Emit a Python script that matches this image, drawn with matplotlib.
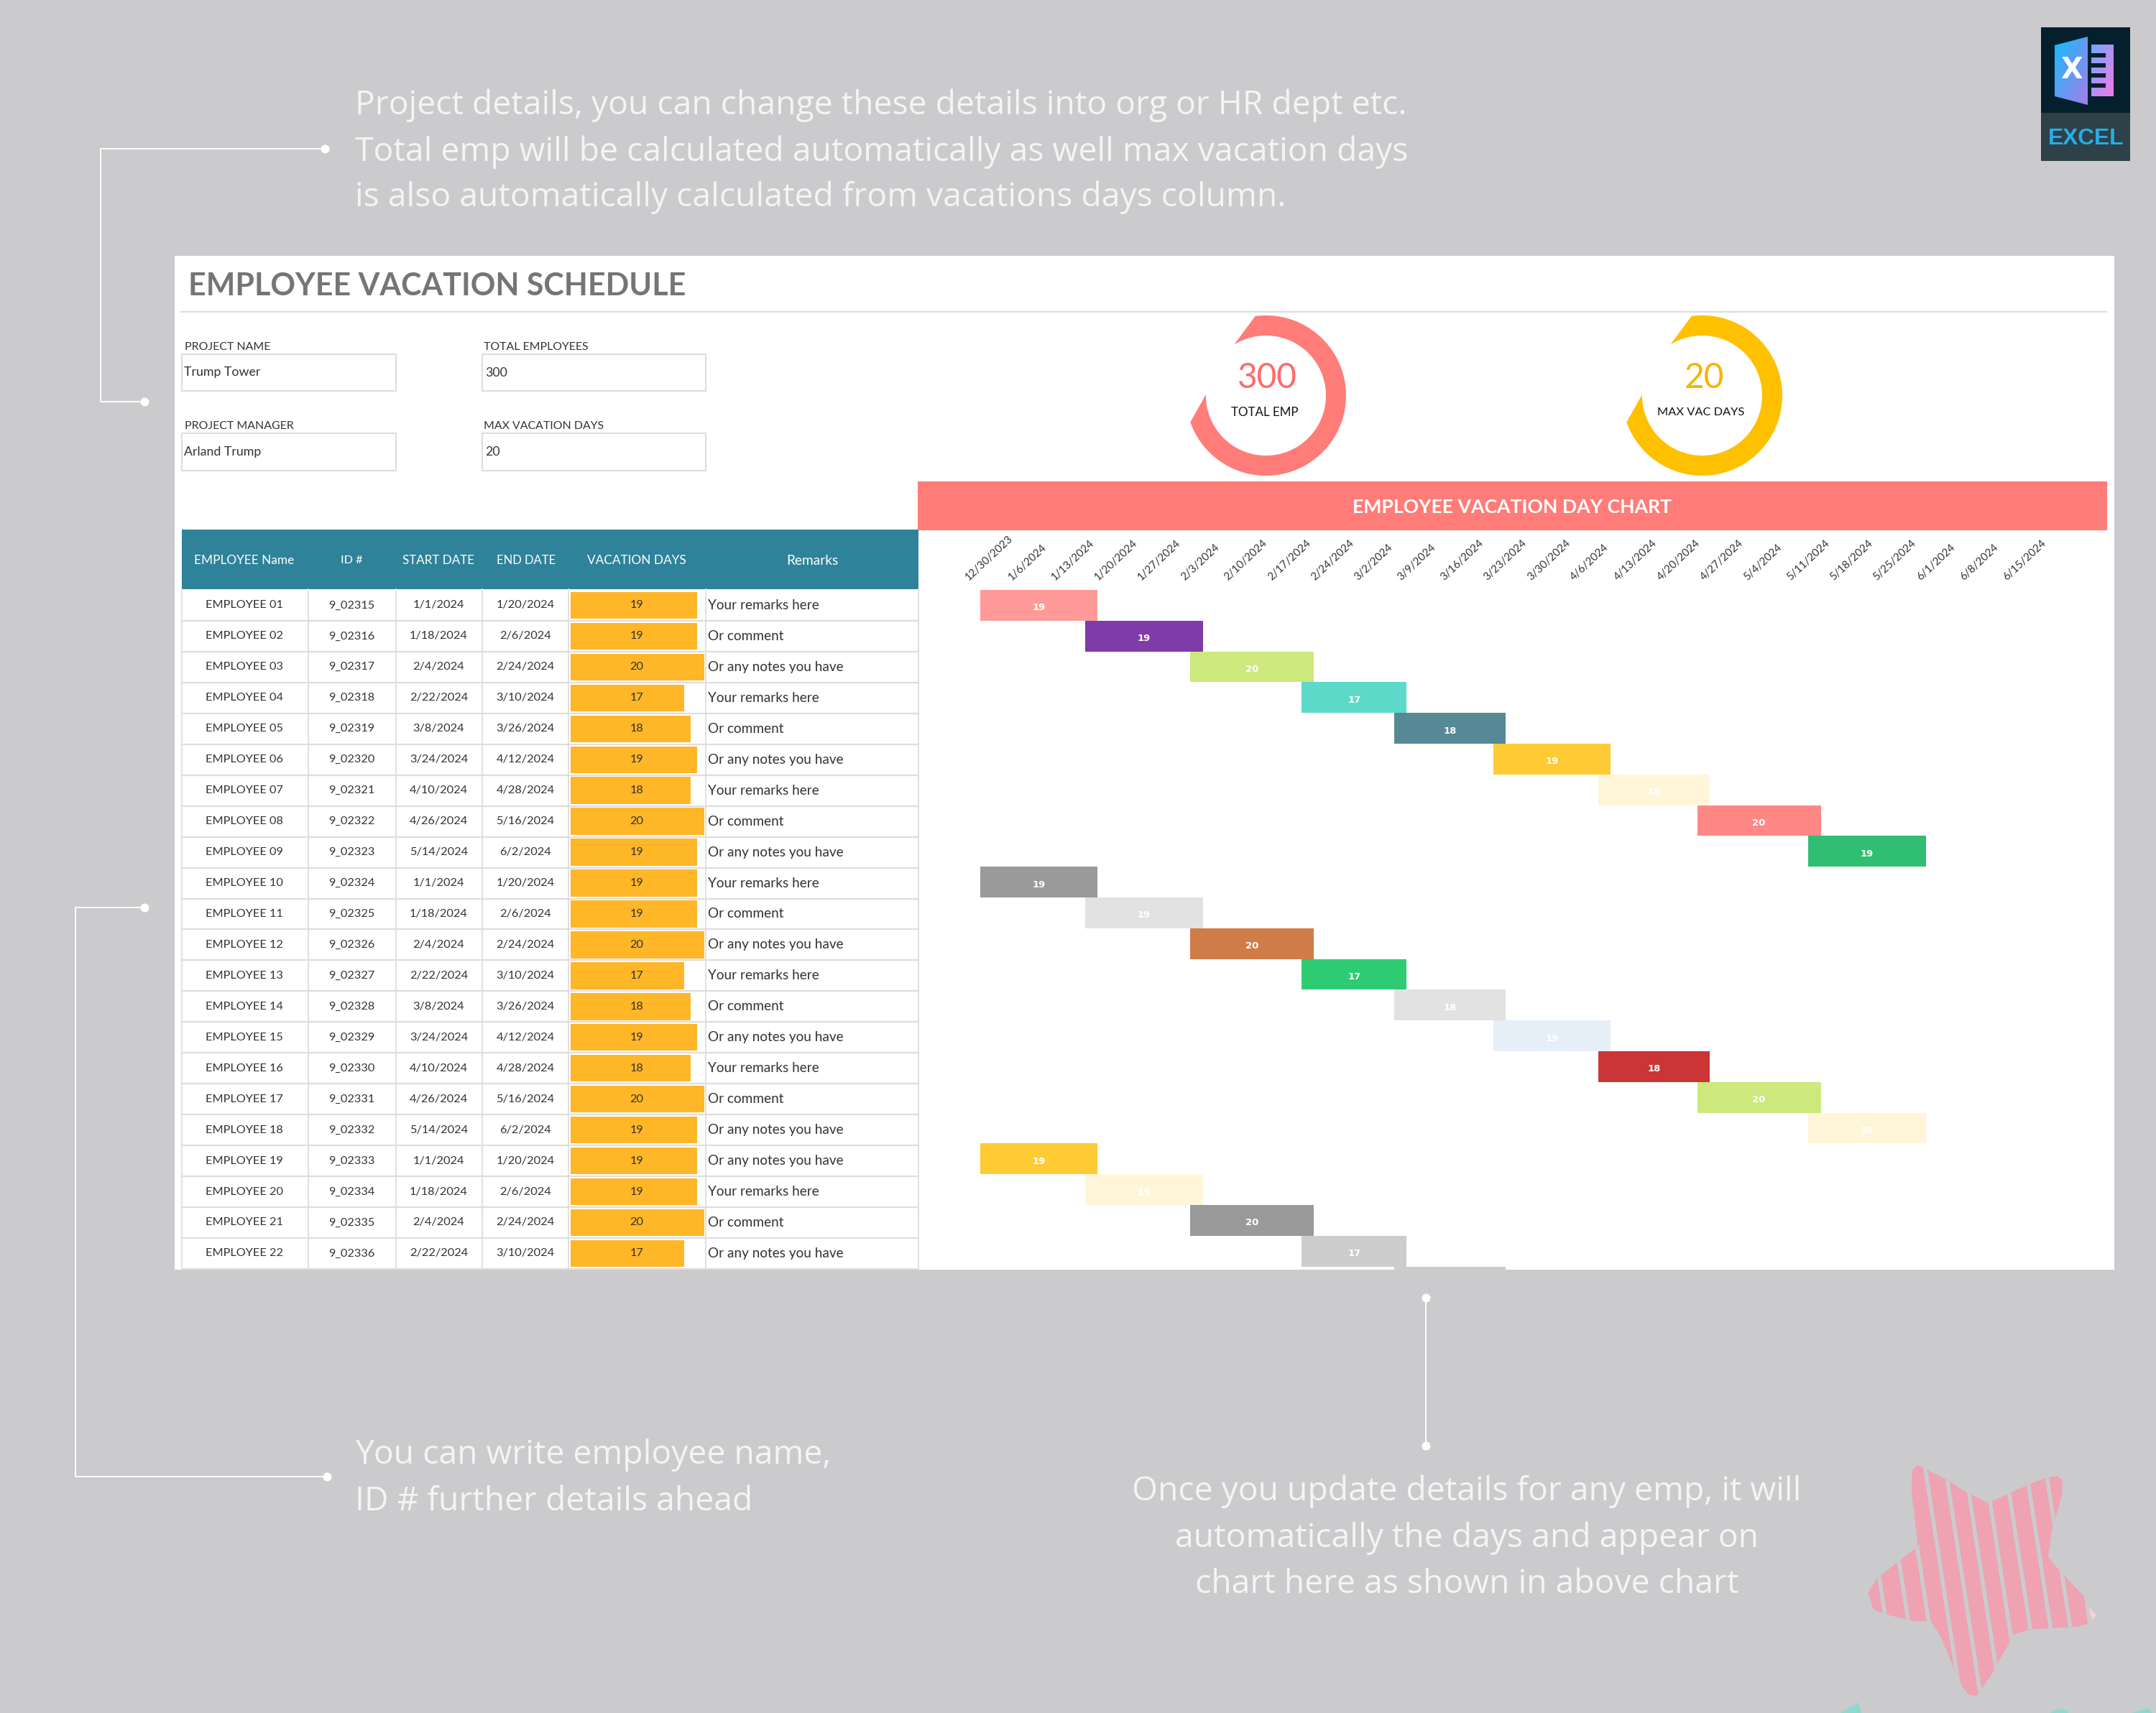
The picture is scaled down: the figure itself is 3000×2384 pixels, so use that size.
# Employee vacation schedule sheet, redrawn on a pixel canvas with a gantt axes on top.

import numpy as np
import matplotlib
matplotlib.use("Agg")
import matplotlib.pyplot as plt
import matplotlib.dates as mdates
from matplotlib.patches import Rectangle, Polygon
from matplotlib.transforms import ScaledTranslation
from datetime import date

W, H = 3000, 2384

names = ["EMPLOYEE %02d" % n for n in range(1, 23)]
ids = ["9_02315", "9_02316", "9_02317", "9_02318", "9_02319", "9_02320", "9_02321", "9_02322",
       "9_02323", "9_02324", "9_02325", "9_02326", "9_02327", "9_02328", "9_02329", "9_02330",
       "9_02331", "9_02332", "9_02333", "9_02334", "9_02335", "9_02336"]
start_labels = ["1/1/2024", "1/18/2024", "2/4/2024", "2/22/2024", "3/8/2024", "3/24/2024",
                "4/10/2024", "4/26/2024", "5/14/2024", "1/1/2024", "1/18/2024", "2/4/2024",
                "2/22/2024", "3/8/2024", "3/24/2024", "4/10/2024", "4/26/2024", "5/14/2024",
                "1/1/2024", "1/18/2024", "2/4/2024", "2/22/2024"]
end_labels = ["1/20/2024", "2/6/2024", "2/24/2024", "3/10/2024", "3/26/2024", "4/12/2024",
              "4/28/2024", "5/16/2024", "6/2/2024", "1/20/2024", "2/6/2024", "2/24/2024",
              "3/10/2024", "3/26/2024", "4/12/2024", "4/28/2024", "5/16/2024", "6/2/2024",
              "1/20/2024", "2/6/2024", "2/24/2024", "3/10/2024"]
vac_days = [19, 19, 20, 17, 18, 19, 18, 20, 19, 19, 19, 20, 17, 18, 19, 18, 20, 19, 19, 19, 20, 17]
remarks = ["Your remarks here", "Or comment", "Or any notes you have",
           "Your remarks here", "Or comment", "Or any notes you have",
           "Your remarks here", "Or comment", "Or any notes you have",
           "Your remarks here", "Or comment", "Or any notes you have",
           "Your remarks here", "Or comment", "Or any notes you have",
           "Your remarks here", "Or comment", "Or any notes you have",
           "Or any notes you have", "Your remarks here", "Or comment", "Or any notes you have"]
bar_colors = ["#FF9A98", "#7F3BA8", "#CDE87C", "#5DD9C9", "#568896", "#FFCB35", "#FFF5D8", "#FF8785",
              "#30BE72", "#9A9A9A", "#E2E2E2", "#D07C48", "#2ECC72", "#E2E2E2", "#E6EEF8", "#CC3535",
              "#CDE87C", "#FFF5D8", "#FFCB35", "#FFF5D8", "#9A9A9A", "#CCCCCC"]
# row 23 only peeks out under the sheet's cut edge
extra_start, extra_days, extra_color = "3/8/2024", 18, "#CCCCCC"

headers = ["EMPLOYEE Name", "ID #", "START DATE", "END DATE", "VACATION DAYS", "Remarks"]
tick_dates = ["12/30/2023", "1/6/2024", "1/13/2024", "1/20/2024", "1/27/2024", "2/3/2024", "2/10/2024",
              "2/17/2024", "2/24/2024", "3/2/2024", "3/9/2024", "3/16/2024", "3/23/2024", "3/30/2024",
              "4/6/2024", "4/13/2024", "4/20/2024", "4/27/2024", "5/4/2024", "5/11/2024", "5/18/2024",
              "5/25/2024", "6/1/2024", "6/8/2024", "6/15/2024"]

BG = "#CBCBCD"
FONT = "Lato"
INK = "#333333"
CORAL = "#FF7C78"
AMBER = "#FFC000"
GRID = "#DEDEDE"
NOTE = "#F4F4F4"

col_x = [252.5, 428.5, 550.5, 670.5, 791, 981.5, 1277.5]
row_top, row_h = 821, 42.95
gantt_row_h = 42.8
sheet_bottom = 1767


def to_num(s):
    m, d, y = s.split("/")
    return mdates.date2num(date(int(y), int(m), int(d)))


def add_axes_px(left, top, right, bottom):
    a = fig.add_axes([left / W, 1 - bottom / H, (right - left) / W, (bottom - top) / H])
    a.patch.set_alpha(0)
    for s in a.spines.values():
        s.set_visible(False)
    return a


def gradient(box, c1, c2, clip):
    # diagonal fill between two colours, clipped to a patch
    g = np.linspace(0, 1, 64)
    t = (g[None, :] + g[:, None]) / 2
    c1, c2 = matplotlib.colors.to_rgb(c1), matplotlib.colors.to_rgb(c2)
    img = np.dstack([c1[i] + (c2[i] - c1[i]) * t for i in range(3)])
    im = ax.imshow(img, extent=(box[0], box[2], box[3], box[1]), zorder=3, aspect="auto")
    im.set_clip_path(clip)


def ring(cx, cy, color):
    # gauge ring with the slanted cut ends of the sheet's shape
    a_out = np.radians(np.linspace(97.7, -160.6, 200))
    a_in = np.radians(np.linspace(-181, 122, 200))
    px = np.r_[cx + 111.5 * np.cos(a_out), cx + 83.5 * np.cos(a_in)]
    py = np.r_[cy - 111.5 * np.sin(a_out), cy - 83.5 * np.sin(a_in)]
    ax.fill(px, py, color=color, lw=0, zorder=2)


plt.rcParams["font.family"] = [FONT, "DejaVu Sans"]
fig = plt.figure(figsize=(W / 300, H / 300), dpi=300, facecolor=BG)
ax = fig.add_axes([0, 0, 1, 1])
ax.set_axis_off()

# sheet
ax.add_patch(Rectangle((243, 356), 2699, sheet_bottom - 356, color="white", lw=0, zorder=1))
ax.plot([252, 2931], [434, 434], color="#DDDDDD", lw=0.5, zorder=2)
ax.text(262, 398, "EMPLOYEE VACATION SCHEDULE", fontsize=10.3, fontweight="bold", color="#757575",
        va="center", ha="left", zorder=3)

# project fields
fields = [(257, 483, "PROJECT NAME", 252.5, 493, 551, 544, "Trump Tower"),
          (673, 483, "TOTAL EMPLOYEES", 671, 493, 981.5, 544, "300"),
          (257, 593, "PROJECT MANAGER", 252.5, 603, 551, 654.5, "Arland Trump"),
          (673, 593, "MAX VACATION DAYS", 671, 603, 981.5, 654.5, "20")]
for lx, ly, lab, x0, y0, x1, y1, val in fields:
    ax.text(lx, ly, lab, fontsize=3.8, color=INK, va="center", ha="left", zorder=3)
    ax.add_patch(Rectangle((x0, y0), x1 - x0, y1 - y0, fc="white", ec="#DADADA", lw=0.45, zorder=2))
    ax.text(x0 + 4, (y0 + y1) / 2, val, fontsize=4.25, color=INK, va="center", ha="left", zorder=3)

# gauges
ring(1761.5, 550.5, CORAL)
ring(2368.5, 550.5, AMBER)
ax.text(1763, 526, "300", fontsize=11.5, color="#FF6B6B", ha="center", va="center", zorder=3)
ax.text(1760, 574, "TOTAL EMP", fontsize=4.1, color="#111111", ha="center", va="center", zorder=3)
ax.text(2371, 526, "20", fontsize=11.5, color="#F5B400", ha="center", va="center", zorder=3)
ax.text(2366.5, 574, "MAX VAC DAYS", fontsize=3.95, color="#111111", ha="center", va="center", zorder=3)

# chart banner
ax.add_patch(Rectangle((1277, 669.5), 1654.5, 68.5, color=CORAL, lw=0, zorder=2))
ax.text(2104, 706, "EMPLOYEE VACATION DAY CHART", fontsize=6.4, fontweight="bold", color="white",
        ha="center", va="center", zorder=3)

# table header and grid
ax.add_patch(Rectangle((col_x[0], 737), col_x[-1] - col_x[0], 83, color="#2E8299", lw=0, zorder=2))
header_x = [340, 489, 610, 732, 886, 1130]
header_size = [4.15, 3.9, 4.1, 4.0, 4.15, 4.6]
for hx, lab, fs in zip(header_x, headers, header_size):
    ax.text(hx, 780, lab, fontsize=fs, color="white", ha="center", va="center", zorder=3)
for x in col_x:
    ax.plot([x, x], [820, sheet_bottom], color=GRID, lw=0.45, zorder=2)
for i in range(23):
    y = row_top + row_h * (i + 1)
    if y <= sheet_bottom:
        ax.plot([col_x[0], col_x[-1]], [y, y], color=GRID, lw=0.55, zorder=2)

for i in range(len(names)):
    y = row_top + row_h * (i + 0.5)
    ax.text(340, y, names[i], fontsize=3.9, color=INK, ha="center", va="center", zorder=3)
    ax.text(489.5, y, ids[i], fontsize=3.9, color=INK, ha="center", va="center", zorder=3)
    ax.text(610.5, y, start_labels[i], fontsize=3.95, color=INK, ha="center", va="center", zorder=3)
    ax.text(731, y, end_labels[i], fontsize=3.95, color=INK, ha="center", va="center", zorder=3)
    ax.text(985, y, remarks[i], fontsize=4.55, color=INK, ha="left", va="center", zorder=3)

# in-cell data bars, scaled on days
ax_days = add_axes_px(793.5, row_top, 979.5, sheet_bottom)
ax_days.set_xlim(0, max(vac_days))
ax_days.set_ylim((sheet_bottom - row_top) / row_h - 0.5, -0.5)
ax_days.set_axis_off()
ax_days.barh(range(len(vac_days)), vac_days, height=0.87, color="#FFB627", lw=0)
for i, d in enumerate(vac_days):
    ax_days.text(9.95, i, str(d), fontsize=3.9, color=INK, ha="center", va="center")

# gantt
px_per_day = 8.6
jan1 = to_num("1/1/2024")
ax_g = add_axes_px(1277.5, row_top, 2931.5, sheet_bottom)
ax_g.set_xlim(jan1 - (1364 - 1277.5) / px_per_day, jan1 + (2931.5 - 1364) / px_per_day)
ax_g.set_ylim((sheet_bottom - row_top) / gantt_row_h - 0.5, -0.5)
ax_g.barh(range(len(vac_days)), vac_days, left=[to_num(s) for s in start_labels], height=1.0,
          color=bar_colors, lw=0)
ax_g.barh(22, extra_days, left=to_num(extra_start), height=1.0, color=extra_color, lw=0)
for i, d in enumerate(vac_days):
    ax_g.text(to_num(start_labels[i]) + d / 2, i + 0.08, str(d), fontsize=3.2, family="DejaVu Sans",
              fontweight="bold", color="white", ha="center", va="center")
ax_g.set_yticks([])
ax_g.xaxis.tick_top()
ax_g.set_xticks([to_num(s) for s in tick_dates])
ax_g.set_xticklabels(tick_dates, rotation=43, ha="left", va="bottom", rotation_mode="anchor",
                     fontsize=3.65, color=INK)
ax_g.tick_params(axis="x", length=0, pad=2.5)
nudge = ScaledTranslation(3 / 300, 0, fig.dpi_scale_trans)
for lab in ax_g.get_xticklabels():
    lab.set_transform(lab.get_transform() + nudge)

# callouts
note_lines = [
    ((452, 207), (140, 207), (140, 559), (201, 559)),
    ((201, 1263), (105, 1263), (105, 2055), (455, 2055)),
    ((1984, 1806), (1984, 2012)),
]
for pts in note_lines:
    xs, ys = zip(*pts)
    ax.plot(xs, ys, color="white", lw=0.45, zorder=2)
    ax.plot([xs[0], xs[-1]], [ys[0], ys[-1]], "o", color="white", ms=2.9, mew=0, zorder=2)

notes_left = [(494, 159, "Project details, you can change these details into org or HR dept etc."),
              (494, 224, "Total emp will be calculated automatically as well max vacation days"),
              (494, 287, "is also automatically calculated from vacations days column."),
              (494, 2037, "You can write employee name,"),
              (494, 2102, "ID # further details ahead")]
for x, y, s in notes_left:
    ax.text(x, y, s, fontsize=11.1, color=NOTE, ha="left", va="baseline", family="Open Sans", zorder=3)
for y, s in [(2088, "Once you update details for any emp, it will"),
             (2153, "automatically the days and appear on"),
             (2217, "chart here as shown in above chart")]:
    ax.text(2041, y, s, fontsize=11.1, color=NOTE, ha="center", va="baseline", family="Open Sans", zorder=3)

# excel badge
ax.add_patch(Rectangle((2840, 38), 124, 119, color="#04202C", lw=0, zorder=2))
ax.add_patch(Rectangle((2840, 157), 124, 67, color="#2E4148", lw=0, zorder=2))
door = Polygon([(2859, 63), (2905, 51), (2905, 146), (2859, 134)], closed=True, fc="none", lw=0)
ax.add_patch(door)
gradient((2859, 51, 2905, 146), "#12BDFF", "#A97CE8", door)
page = Rectangle((2910, 62), 30.5, 72, fc="none", lw=0)
ax.add_patch(page)
gradient((2910, 62, 2940.5, 134), "#6FA8FF", "#F47AE8", page)
for y0 in (74, 88, 102, 116):
    ax.add_patch(Rectangle((2910, y0), 20, 5.8, color="#04202C", lw=0, zorder=4))
ax.text(2882, 98, "X", fontsize=9.5, fontweight="bold", color="white", family="DejaVu Sans",
        ha="center", va="center", zorder=4)
ax.text(2903, 193, "EXCEL", fontsize=7.6, fontweight="bold", color="#25AEEA", family="Liberation Sans",
        ha="center", va="center", zorder=3)

# striped star in the corner
star_zoom = [(505, 177), (530, 190), (620, 235), (700, 285), (800, 335), (880, 298), (960, 262), (1035, 232),
             (1085, 222), (1110, 240), (1108, 300), (1078, 405), (1065, 450), (1050, 560), (1095, 615),
             (1200, 725), (1215, 840), (1170, 852), (1060, 858), (985, 862), (900, 885), (885, 925), (848, 988),
             (820, 1040), (780, 1100), (750, 1140), (718, 1135), (690, 1100), (650, 1010), (600, 890), (560, 830),
             (490, 828), (370, 800), (320, 780), (298, 710), (335, 650), (495, 525), (505, 500), (480, 290),
             (482, 200)]
star = Polygon([(2500 + x / 3, 1980 + y / 3) for x, y in star_zoom], closed=True, fc="#EEA2B2", lw=0, zorder=2)
ax.add_patch(star)
for x0, y0 in [(537, 195), (630, 250), (720, 300), (808, 335), (888, 298), (968, 262), (1045, 228),
               (345, 650), (428, 585), (503, 520)]:
    sx = [2500 + x0 / 3, 2500 + (x0 + 0.155 * (1200 - y0)) / 3]
    sy = [1980 + y0 / 3, 1980 + 1200 / 3]
    line, = ax.plot(sx, sy, color=BG, lw=1.35, zorder=2.5)
    line.set_clip_path(star)
for pts in ([(2560, 2384), (2584, 2370), (2586, 2369), (2590, 2384)],
            [(2853, 2384), (2862, 2378), (2876, 2380), (2878, 2384)],
            [(2966, 2384), (2990, 2377), (2995, 2384)]):
    ax.add_patch(Polygon(pts, closed=True, fc="#8FD8D0", lw=0, zorder=2))
ax.add_patch(Polygon([(2906, 2236), (2917, 2248), (2911, 2254)], closed=True, fc="#FAD0DA", lw=0, zorder=2))

ax.set_xlim(0, W)
ax.set_ylim(H, 0)

plt.savefig("out.png", dpi=300, facecolor=BG)
